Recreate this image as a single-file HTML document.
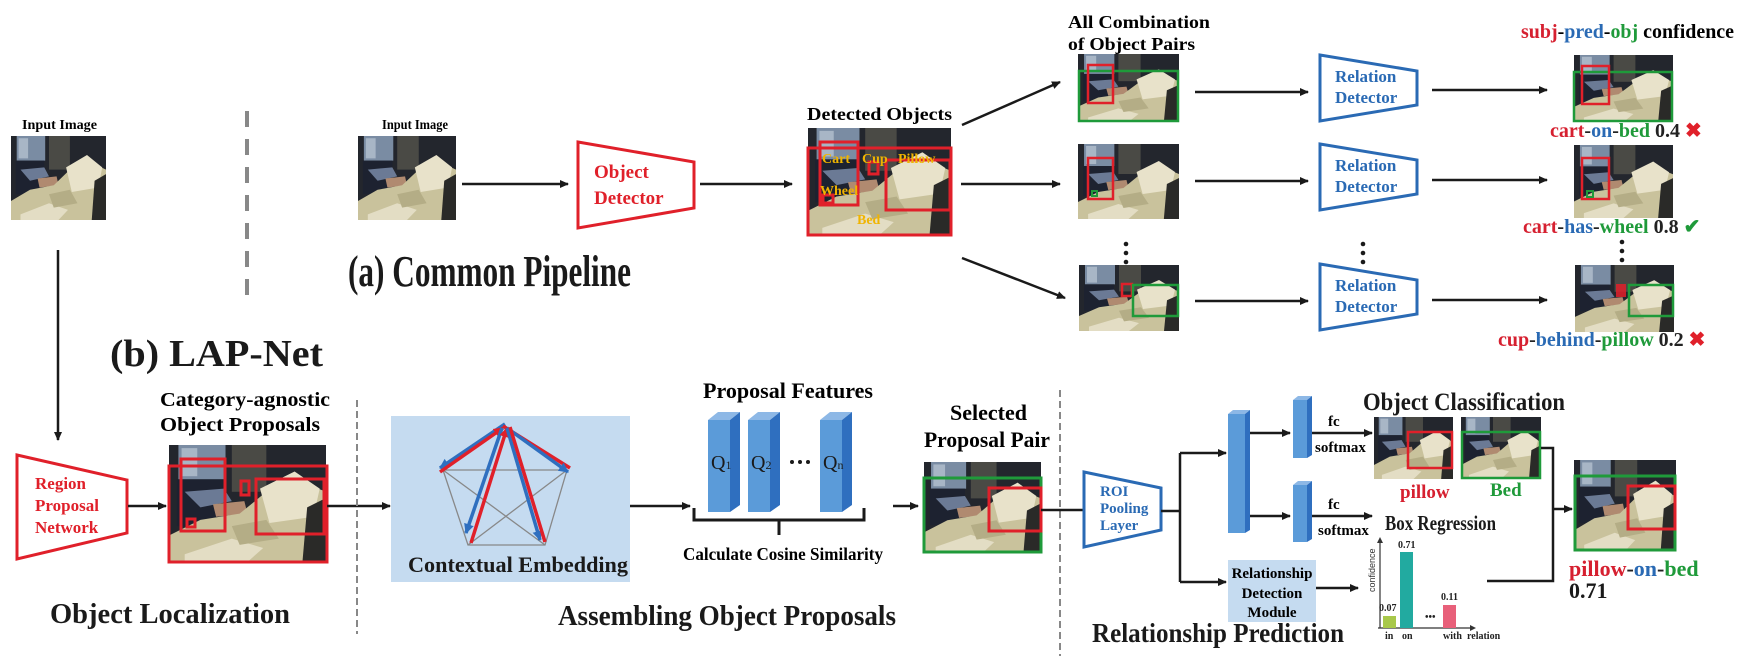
<!DOCTYPE html>
<html><head><meta charset="utf-8"><style>
html,body{margin:0;padding:0;background:#fff;}
svg{display:block;}
text{font-family:"Liberation Serif",serif;font-weight:bold;}
</style></head><body>
<svg width="1746" height="658" viewBox="0 0 1746 658" xmlns="http://www.w3.org/2000/svg">
<defs>
<marker id="ah" markerWidth="10" markerHeight="10" refX="8" refY="5" orient="auto" markerUnits="userSpaceOnUse">
<path d="M0,1 L9,5 L0,9 Z" fill="#1a1a1a"/></marker>
<marker id="abl" markerWidth="12" markerHeight="12" refX="9" refY="6" orient="auto" markerUnits="userSpaceOnUse">
<path d="M0,1 L10,6 L0,11 Z" fill="#2f6fbf"/></marker>
<marker id="ard" markerWidth="12" markerHeight="12" refX="9" refY="6" orient="auto" markerUnits="userSpaceOnUse">
<path d="M0,1 L10,6 L0,11 Z" fill="#e0202a"/></marker>
<symbol id="ph" viewBox="0 0 100 75" preserveAspectRatio="none">
<rect width="100" height="75" fill="#23262d"/>
<rect x="6" y="0" width="30" height="22" fill="#7a8ca3"/>
<rect x="8" y="2" width="10" height="18" fill="#a8b6c6"/>
<rect x="40" y="0" width="22" height="30" fill="#4a4a45"/>
<rect x="5" y="22" width="30" height="30" fill="#1d2230"/>
<polygon points="10,30 35,28 40,36 20,40" fill="#6b7a95"/>
<polygon points="28,38 48,36 50,44 30,46" fill="#b08a70"/>
<polygon points="0,58 20,48 45,44 62,30 80,22 100,30 100,75 0,75" fill="#c9c29c"/>
<polygon points="10,70 40,60 60,66 50,75 10,75" fill="#e3ddc4"/>
<polygon points="58,28 80,17 96,28 92,46 64,50" fill="#e8e2ca"/>
<polygon points="40,52 62,48 70,60 45,64" fill="#b4ad86"/>
<polygon points="88,40 100,34 100,75 85,75" fill="#2a2a28"/>
</symbol>
</defs>

<text x="22" y="129" font-size="14" textLength="75" lengthAdjust="spacingAndGlyphs">Input Image</text>
<use href="#ph" x="11" y="136" width="95" height="84"/>
<line x1="247" y1="111" x2="247" y2="296" stroke="#888" stroke-width="4" stroke-dasharray="16,12"/>
<line x1="58" y1="250" x2="58" y2="440" stroke="#1a1a1a" stroke-width="2.5" marker-end="url(#ah)"/>

<text x="382" y="129" font-size="14" textLength="66" lengthAdjust="spacingAndGlyphs">Input Image</text>
<use href="#ph" x="358" y="136" width="98" height="84"/>
<line x1="462" y1="184" x2="568" y2="184" stroke="#1a1a1a" stroke-width="2.5" marker-end="url(#ah)"/>
<polygon points="578,142 694,162 694,208 578,228" fill="none" stroke="#e0202a" stroke-width="3"/>
<text x="594" y="178" font-size="19" fill="#e0202a">Object</text>
<text x="594" y="204" font-size="19" fill="#e0202a">Detector</text>
<line x1="700" y1="184" x2="792" y2="184" stroke="#1a1a1a" stroke-width="2.5" marker-end="url(#ah)"/>

<text x="348" y="286" font-size="44" textLength="283" lengthAdjust="spacingAndGlyphs" fill="#1a1a1a">(a) Common Pipeline</text>

<text x="807" y="120" font-size="18" textLength="145" lengthAdjust="spacingAndGlyphs">Detected Objects</text>
<use href="#ph" x="808" y="128" width="143" height="107"/>
<g fill="none" stroke="#e0202a" stroke-width="3">
<rect x="808" y="148" width="143" height="87"/>
<rect x="820" y="142" width="38" height="63"/>
<rect x="869" y="162" width="9" height="12"/>
<rect x="886" y="160" width="64" height="50"/>
<rect x="823" y="195" width="10" height="8"/>
</g>
<g fill="#f0b400" font-size="14">
<text x="822" y="163">Cart</text><text x="862" y="163">Cup</text><text x="898" y="163">Pillow</text>
<text x="820" y="195">Wheel</text><text x="857" y="224">Bed</text>
</g>
<line x1="962" y1="125" x2="1060" y2="82" stroke="#1a1a1a" stroke-width="2.5" marker-end="url(#ah)"/>
<line x1="961" y1="184" x2="1060" y2="184" stroke="#1a1a1a" stroke-width="2.5" marker-end="url(#ah)"/>
<line x1="962" y1="258" x2="1065" y2="298" stroke="#1a1a1a" stroke-width="2.5" marker-end="url(#ah)"/>

<text x="1068" y="28" font-size="18" textLength="142" lengthAdjust="spacingAndGlyphs">All Combination</text>
<text x="1068" y="50" font-size="18" textLength="127" lengthAdjust="spacingAndGlyphs">of Object Pairs</text>

<use href="#ph" x="1078" y="54" width="101" height="68"/>
<rect x="1079" y="71" width="99" height="50" fill="none" stroke="#1f9a3a" stroke-width="2.5"/>
<rect x="1088" y="65" width="25" height="38" fill="none" stroke="#e0202a" stroke-width="2.5"/>
<use href="#ph" x="1078" y="144" width="101" height="75"/>
<rect x="1088" y="158" width="25" height="41" fill="none" stroke="#e0202a" stroke-width="2.5"/>
<rect x="1092" y="191" width="5" height="5" fill="none" stroke="#1f9a3a" stroke-width="2"/>
<use href="#ph" x="1079" y="265" width="100" height="66"/>
<rect x="1122" y="284" width="10" height="12" fill="none" stroke="#e0202a" stroke-width="2.5"/>
<rect x="1133" y="285" width="45" height="31" fill="none" stroke="#1f9a3a" stroke-width="2.5"/>
<g fill="#1a1a1a"><circle cx="1126" cy="244" r="2.3"/><circle cx="1126" cy="253" r="2.3"/><circle cx="1126" cy="262" r="2.3"/>
<circle cx="1363" cy="244" r="2.3"/><circle cx="1363" cy="253" r="2.3"/><circle cx="1363" cy="262" r="2.3"/>
<circle cx="1622" cy="242" r="2.3"/><circle cx="1622" cy="251" r="2.3"/><circle cx="1622" cy="260" r="2.3"/></g>

<g>
<line x1="1195" y1="92" x2="1308" y2="92" stroke="#1a1a1a" stroke-width="2.5" marker-end="url(#ah)"/>
<line x1="1195" y1="181" x2="1308" y2="181" stroke="#1a1a1a" stroke-width="2.5" marker-end="url(#ah)"/>
<line x1="1195" y1="301" x2="1308" y2="301" stroke="#1a1a1a" stroke-width="2.5" marker-end="url(#ah)"/>
<line x1="1432" y1="90" x2="1547" y2="90" stroke="#1a1a1a" stroke-width="2.5" marker-end="url(#ah)"/>
<line x1="1432" y1="180" x2="1547" y2="180" stroke="#1a1a1a" stroke-width="2.5" marker-end="url(#ah)"/>
<line x1="1432" y1="300" x2="1547" y2="300" stroke="#1a1a1a" stroke-width="2.5" marker-end="url(#ah)"/>
</g>
<g fill="none" stroke="#2a6ab4" stroke-width="3">
<polygon points="1320,55 1417,71 1417,105 1320,121"/>
<polygon points="1320,144 1417,160 1417,194 1320,210"/>
<polygon points="1320,264 1417,280 1417,314 1320,330"/>
</g>
<g fill="#2a6ab4" font-size="17">
<text x="1335" y="82">Relation</text><text x="1335" y="103">Detector</text>
<text x="1335" y="171">Relation</text><text x="1335" y="192">Detector</text>
<text x="1335" y="291">Relation</text><text x="1335" y="312">Detector</text>
</g>

<text x="1521" y="38" font-size="20" textLength="213" lengthAdjust="spacingAndGlyphs"><tspan fill="#d62030">subj</tspan>-<tspan fill="#2a6ab4">pred</tspan>-<tspan fill="#1f9a3a">obj</tspan> confidence</text>
<use href="#ph" x="1574" y="55" width="99" height="67"/>
<rect x="1574" y="72" width="98" height="49" fill="none" stroke="#1f9a3a" stroke-width="2.5"/>
<rect x="1582" y="66" width="27" height="38" fill="none" stroke="#e0202a" stroke-width="2.5"/>
<text x="1550" y="137" font-size="20" fill="#222"><tspan fill="#d62030">cart</tspan>-<tspan fill="#2a6ab4">on</tspan>-<tspan fill="#1f9a3a">bed</tspan> 0.4 <tspan fill="#e0202a">✖</tspan></text>
<use href="#ph" x="1574" y="145" width="99" height="73"/>
<rect x="1582" y="158" width="27" height="41" fill="none" stroke="#e0202a" stroke-width="2.5"/>
<rect x="1587" y="191" width="6" height="6" fill="none" stroke="#1f9a3a" stroke-width="2"/>
<text x="1523" y="233" font-size="20" fill="#222"><tspan fill="#d62030">cart</tspan>-<tspan fill="#2a6ab4">has</tspan>-<tspan fill="#1f9a3a">wheel</tspan> 0.8 <tspan fill="#1f9a3a">✔</tspan></text>
<use href="#ph" x="1575" y="265" width="99" height="67"/>
<rect x="1616" y="284" width="10" height="13" fill="#e0202a" opacity="0.85"/>
<rect x="1629" y="285" width="44" height="31" fill="none" stroke="#1f9a3a" stroke-width="2.5"/>
<text x="1498" y="346" font-size="20" fill="#222"><tspan fill="#d62030">cup</tspan>-<tspan fill="#2a6ab4">behind</tspan>-<tspan fill="#1f9a3a">pillow</tspan> 0.2 <tspan fill="#e0202a">✖</tspan></text>

<text x="110" y="366" font-size="38" textLength="213" lengthAdjust="spacingAndGlyphs" fill="#1a1a1a">(b) LAP-Net</text>
<polygon points="17,455 127,480 127,533 17,559" fill="none" stroke="#e0202a" stroke-width="3"/>
<g fill="#e0202a" font-size="17"><text x="35" y="489">Region</text><text x="35" y="511">Proposal</text><text x="35" y="533">Network</text></g>
<line x1="128" y1="506" x2="166" y2="506" stroke="#1a1a1a" stroke-width="2.5" marker-end="url(#ah)"/>
<text x="160" y="406" font-size="20" textLength="170" lengthAdjust="spacingAndGlyphs">Category-agnostic</text>
<text x="160" y="431" font-size="20" textLength="160" lengthAdjust="spacingAndGlyphs">Object Proposals</text>
<use href="#ph" x="169" y="445" width="157" height="117"/>
<g fill="none" stroke="#e0202a" stroke-width="3">
<rect x="169" y="466" width="158" height="96"/>
<rect x="181" y="459" width="44" height="72"/>
<rect x="241" y="481" width="8" height="14"/>
<rect x="187" y="519" width="8" height="8"/>
<rect x="256" y="479" width="68" height="55"/>
</g>
<line x1="327" y1="506" x2="390" y2="506" stroke="#1a1a1a" stroke-width="2.5" marker-end="url(#ah)"/>
<line x1="357" y1="400" x2="357" y2="634" stroke="#888" stroke-width="2" stroke-dasharray="7,4"/>
<text x="50" y="623" font-size="28" textLength="240" lengthAdjust="spacingAndGlyphs" fill="#1a1a1a">Object Localization</text>

<rect x="391" y="416" width="239" height="166" fill="#c5dbf0"/>
<g stroke="#888" stroke-width="1.3" fill="none">
<polygon points="443,470 567,470 545,545 468,545"/>
<line x1="443" y1="470" x2="545" y2="545"/><line x1="567" y1="470" x2="468" y2="545"/>
</g>
<g stroke-width="3.5">
<line x1="505" y1="424" x2="440" y2="468" stroke="#2f6fbf" marker-end="url(#abl)"/>
<line x1="440" y1="472" x2="503" y2="428" stroke="#e0202a" marker-end="url(#ard)"/>
<line x1="503" y1="426" x2="570" y2="468" stroke="#e0202a"/>
<line x1="507" y1="428" x2="568" y2="472" stroke="#2f6fbf" marker-end="url(#abl)"/>
<line x1="502" y1="428" x2="466" y2="533" stroke="#2f6fbf" marker-end="url(#abl)"/>
<line x1="471" y1="543" x2="507" y2="428" stroke="#e0202a" marker-end="url(#ard)"/>
<line x1="507" y1="428" x2="540" y2="540" stroke="#2f6fbf" marker-end="url(#abl)"/>
<line x1="545" y1="542" x2="510" y2="427" stroke="#e0202a"/>
</g>
<text x="408" y="572" font-size="22" textLength="220" lengthAdjust="spacingAndGlyphs" fill="#1a1a1a">Contextual Embedding</text>
<line x1="630" y1="506" x2="690" y2="506" stroke="#1a1a1a" stroke-width="2.5" marker-end="url(#ah)"/>

<text x="703" y="398" font-size="22" textLength="170" lengthAdjust="spacingAndGlyphs">Proposal Features</text>
<g>
<polygon points="708,420 718,412 740,412 730,420" fill="#8db8e6"/><polygon points="730,420 740,412 740,505 730,512" fill="#2f6fbf"/><rect x="708" y="420" width="22" height="92" fill="#5b9bd9"/>
<polygon points="748,420 758,412 780,412 770,420" fill="#8db8e6"/><polygon points="770,420 780,412 780,505 770,512" fill="#2f6fbf"/><rect x="748" y="420" width="22" height="92" fill="#5b9bd9"/>
<polygon points="820,420 830,412 852,412 842,420" fill="#8db8e6"/><polygon points="842,420 852,412 852,505 842,512" fill="#2f6fbf"/><rect x="820" y="420" width="22" height="92" fill="#5b9bd9"/>
</g>
<g font-size="20" fill="#1a1a1a"><text x="711" y="469" style="font-weight:normal">Q<tspan font-size="12">1</tspan></text><text x="751" y="469" style="font-weight:normal">Q<tspan font-size="12">2</tspan></text><text x="823" y="469" style="font-weight:normal">Q<tspan font-size="12">n</tspan></text></g>
<g fill="#1a1a1a"><circle cx="792" cy="462" r="2"/><circle cx="800" cy="462" r="2"/><circle cx="808" cy="462" r="2"/></g>
<path d="M694,508 L694,520 L864,520 L864,508 M779,520 L779,535" fill="none" stroke="#1a1a1a" stroke-width="3"/>
<text x="683" y="560" font-size="18" textLength="200" lengthAdjust="spacingAndGlyphs">Calculate Cosine Similarity</text>
<text x="558" y="625" font-size="28" textLength="338" lengthAdjust="spacingAndGlyphs" fill="#1a1a1a">Assembling Object Proposals</text>

<line x1="893" y1="506" x2="918" y2="506" stroke="#1a1a1a" stroke-width="2.5" marker-end="url(#ah)"/>
<text x="950" y="420" font-size="22">Selected</text>
<text x="924" y="447" font-size="22" textLength="126" lengthAdjust="spacingAndGlyphs">Proposal Pair</text>
<use href="#ph" x="924" y="462" width="117" height="91"/>
<rect x="924" y="478" width="117" height="74" fill="none" stroke="#1f9a3a" stroke-width="3"/>
<rect x="989" y="488" width="52" height="43" fill="none" stroke="#e0202a" stroke-width="3"/>
<line x1="1060" y1="390" x2="1060" y2="656" stroke="#888" stroke-width="2" stroke-dasharray="7,4"/>
<line x1="1041" y1="510" x2="1084" y2="510" stroke="#1a1a1a" stroke-width="2.5"/>
<polygon points="1084,472 1161,488 1161,530 1084,547" fill="none" stroke="#2a6ab4" stroke-width="3"/>
<g fill="#2a6ab4" font-size="15"><text x="1100" y="496">ROI</text><text x="1100" y="513">Pooling</text><text x="1100" y="530">Layer</text></g>
<path d="M1161,511 L1180,511 M1180,453 L1180,582" stroke="#1a1a1a" stroke-width="2.5" fill="none"/>
<line x1="1180" y1="453" x2="1226" y2="453" stroke="#1a1a1a" stroke-width="2.5" marker-end="url(#ah)"/>
<line x1="1180" y1="582" x2="1226" y2="582" stroke="#1a1a1a" stroke-width="2.5" marker-end="url(#ah)"/>
<polygon points="1228,414 1233,410 1250,410 1245,414" fill="#8db8e6"/><polygon points="1245,414 1250,410 1250,530 1245,533" fill="#2f6fbf"/><rect x="1228" y="414" width="17" height="119" fill="#5b9bd9"/>
<line x1="1250" y1="433" x2="1290" y2="433" stroke="#1a1a1a" stroke-width="2.5" marker-end="url(#ah)"/>
<line x1="1250" y1="516" x2="1290" y2="516" stroke="#1a1a1a" stroke-width="2.5" marker-end="url(#ah)"/>
<polygon points="1293,400 1298,396 1312,396 1307,400" fill="#8db8e6"/><polygon points="1307,400 1312,396 1312,455 1307,458" fill="#2f6fbf"/><rect x="1293" y="400" width="14" height="58" fill="#5b9bd9"/>
<polygon points="1293,485 1298,481 1312,481 1307,485" fill="#8db8e6"/><polygon points="1307,485 1312,481 1312,539 1307,542" fill="#2f6fbf"/><rect x="1293" y="485" width="14" height="57" fill="#5b9bd9"/>
<g font-size="15"><text x="1328" y="426">fc</text><text x="1315" y="452">softmax</text><text x="1328" y="509">fc</text><text x="1318" y="535">softmax</text></g>
<line x1="1312" y1="433" x2="1372" y2="433" stroke="#1a1a1a" stroke-width="2.5" marker-end="url(#ah)"/>
<line x1="1312" y1="516" x2="1372" y2="516" stroke="#1a1a1a" stroke-width="2.5" marker-end="url(#ah)"/>
<rect x="1228" y="560" width="88" height="62" fill="#c5dbf0"/>
<g font-size="15" text-anchor="middle"><text x="1272" y="578">Relationship</text><text x="1272" y="598">Detection</text><text x="1272" y="617">Module</text></g>
<line x1="1316" y1="588" x2="1358" y2="588" stroke="#1a1a1a" stroke-width="2.5" marker-end="url(#ah)"/>
<text x="1092" y="642" font-size="27" textLength="252" lengthAdjust="spacingAndGlyphs" fill="#1a1a1a">Relationship Prediction</text>

<text x="1363" y="410" font-size="25" textLength="202" lengthAdjust="spacingAndGlyphs" fill="#1a1a1a">Object Classification</text>
<use href="#ph" x="1374" y="417" width="79" height="62"/>
<rect x="1408" y="432" width="44" height="36" fill="none" stroke="#e0202a" stroke-width="2.5"/>
<use href="#ph" x="1461" y="417" width="80" height="62"/>
<rect x="1462" y="432" width="78" height="46" fill="none" stroke="#1f9a3a" stroke-width="2.5"/>
<text x="1400" y="498" font-size="19" fill="#d62030">pillow</text>
<text x="1490" y="496" font-size="19" fill="#1f9a3a">Bed</text>
<text x="1385" y="530" font-size="21" textLength="111" lengthAdjust="spacingAndGlyphs" fill="#1a1a1a">Box Regression</text>
<path d="M1380,628 L1380,540 M1378,628 L1472,628" stroke="#333" stroke-width="1.2" fill="none"/>
<path d="M1377,543 L1380,537 L1383,543 Z M1470,625 L1476,628 L1470,631 Z" fill="#333"/>
<text transform="translate(1375,592) rotate(-90)" font-size="9" style="font-family:'Liberation Sans',sans-serif;font-weight:normal" fill="#333">confidence</text>
<rect x="1383" y="616" width="13" height="12" fill="#a8c84a"/>
<rect x="1400" y="552" width="13" height="76" fill="#22aaa0"/>
<rect x="1443" y="605" width="13" height="23" fill="#e8607a"/>
<g font-size="10" style="font-family:'Liberation Sans',sans-serif;font-weight:normal" fill="#222">
<text x="1379" y="611">0.07</text><text x="1398" y="548">0.71</text><text x="1441" y="600">0.11</text>
<text x="1425" y="620">•••</text>
<text x="1385" y="639">in</text><text x="1402" y="639">on</text><text x="1443" y="639">with</text><text x="1467" y="639">relation</text></g>
<path d="M1541,448 L1553,448 L1553,581 L1487,581" stroke="#1a1a1a" stroke-width="2.5" fill="none"/>
<line x1="1553" y1="509" x2="1572" y2="509" stroke="#1a1a1a" stroke-width="2.5" marker-end="url(#ah)"/>
<use href="#ph" x="1574" y="460" width="102" height="91"/>
<rect x="1575" y="476" width="100" height="74" fill="none" stroke="#1f9a3a" stroke-width="3"/>
<rect x="1628" y="486" width="47" height="43" fill="none" stroke="#e0202a" stroke-width="3"/>
<text x="1569" y="576" font-size="22"><tspan fill="#d62030">pillow</tspan><tspan fill="#222">-</tspan><tspan fill="#2a6ab4">on</tspan><tspan fill="#222">-</tspan><tspan fill="#1f9a3a">bed</tspan></text>
<text x="1569" y="598" font-size="22" fill="#1a1a1a">0.71</text>
</svg>
</body></html>
